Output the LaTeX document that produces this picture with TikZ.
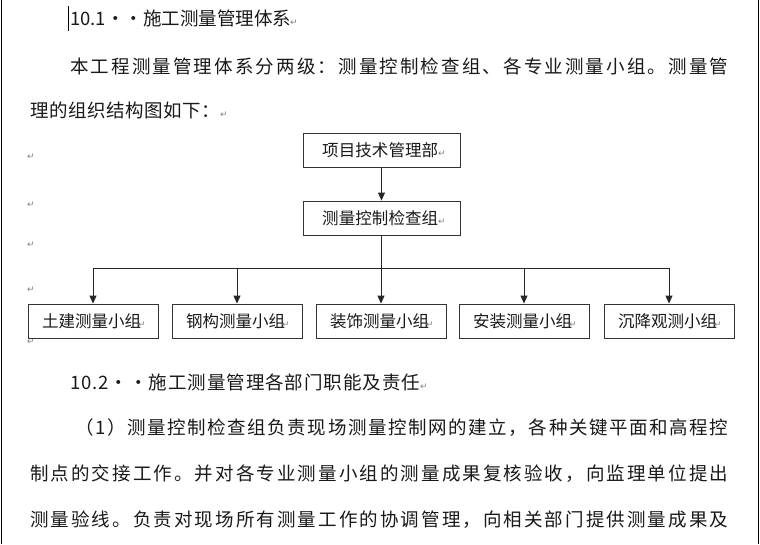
\documentclass[tikz,border=0pt]{standalone}
\usepackage{fontspec}
\setmainfont{Noto Sans CJK SC}
\newfontfamily\rt{DejaVu Sans}
\usetikzlibrary{arrows.meta}
\makeatletter
\newif\iffirstch
\newcommand\spreadtxt[2]{\makebox[#1][s]{\firstchtrue\@tfor\ch:=#2\do{\iffirstch\firstchfalse\else\hfil\fi\ch}}}
\makeatother
\newcommand\ret{{\rt\fontsize{9}{9}\selectfont\color{gray}↵}}
\begin{document}
\begin{tikzpicture}[x=1pt,y=-1pt,
  box/.style={draw=black!80,line width=0.9pt,minimum height=34pt,inner sep=0pt},
  txt/.style={anchor=west,inner sep=0pt,text=black!90,font=\fontsize{18.5}{18.5}\selectfont},
  btxt/.style={inner sep=0pt,text=black!90,font=\fontsize{16.5}{16.5}\selectfont},
  arr/.style={-{Triangle[length=8pt,width=7pt]},line width=0.9pt,draw=black!85},
  mk/.style={anchor=west,inner sep=0pt}]
\useasboundingbox (0,0) rectangle (760,544);
\draw[line width=1pt] (1,0) -- (1,544);
\draw[line width=1pt] (758,0) -- (758,544);
\draw[line width=1pt] (68,6) -- (68,31);
% text
\node[txt] (t1) at (70,18) {\spreadtxt{220pt}{10.1··施工测量管理体系}\ret};
\node[txt] (l1) at (70,66) {\spreadtxt{658pt}{本工程测量管理体系分两级：测量控制检查组、各专业测量小组。测量管}};
\node[txt] (l2) at (30,110) {\spreadtxt{190pt}{理的组织结构图如下：}\ret};
\node[txt] (t2) at (70,382) {\spreadtxt{350pt}{10.2··施工测量管理各部门职能及责任}\ret};
\node[txt] (p1) at (75,428) {\spreadtxt{653pt}{（1）测量控制检查组负责现场测量控制网的建立，各种关键平面和高程控}};
\node[txt] (p2) at (30,474) {\spreadtxt{698pt}{制点的交接工作。并对各专业测量小组的测量成果复核验收，向监理单位提出}};
\node[txt] (p3) at (30,520) {\spreadtxt{698pt}{测量验线。负责对现场所有测量工作的协调管理，向相关部门提供测量成果及}};
\foreach \yy/\nm in {157/m1,205/m2,245/m3,290/m4,342/m5} \node[mk] (\nm) at (27,\yy) {\ret};
% boxes
\node[box,minimum width=157pt] (a) at (381.5,150) {};
\node[btxt,anchor=west] (at) at (322,150) {\spreadtxt{116pt}{项目技术管理部}\ret};
\node[box,minimum width=157pt] (b) at (381.5,218) {};
\node[btxt,anchor=west] (bt) at (322,218) {\spreadtxt{116pt}{测量控制检查组}\ret};
\foreach \cx/\nm/\tt in {93/c1/土建测量小组,237/c2/钢构测量小组,381/c3/装饰测量小组,524/c4/安装测量小组,669/c5/沉降观测小组}{
  \node[box,minimum width=130pt] (\nm) at (\cx,321) {};
  \node[btxt] (\nm t) at (\cx+1,321) {\spreadtxt{96pt}{\tt}\ret};
}
\coordinate (j) at (381.5,268);
\draw[arr] (a) -- (b);
\draw[line width=0.9pt,draw=black!85] (b) -- (j);
\draw[line width=0.9pt,draw=black!85] (c1.north |- j) -- (c5.north |- j);
\foreach \nm in {c1,c2,c3,c4,c5} \draw[arr] (\nm.north |- j) -- (\nm.north);
\end{tikzpicture}
\end{document}
